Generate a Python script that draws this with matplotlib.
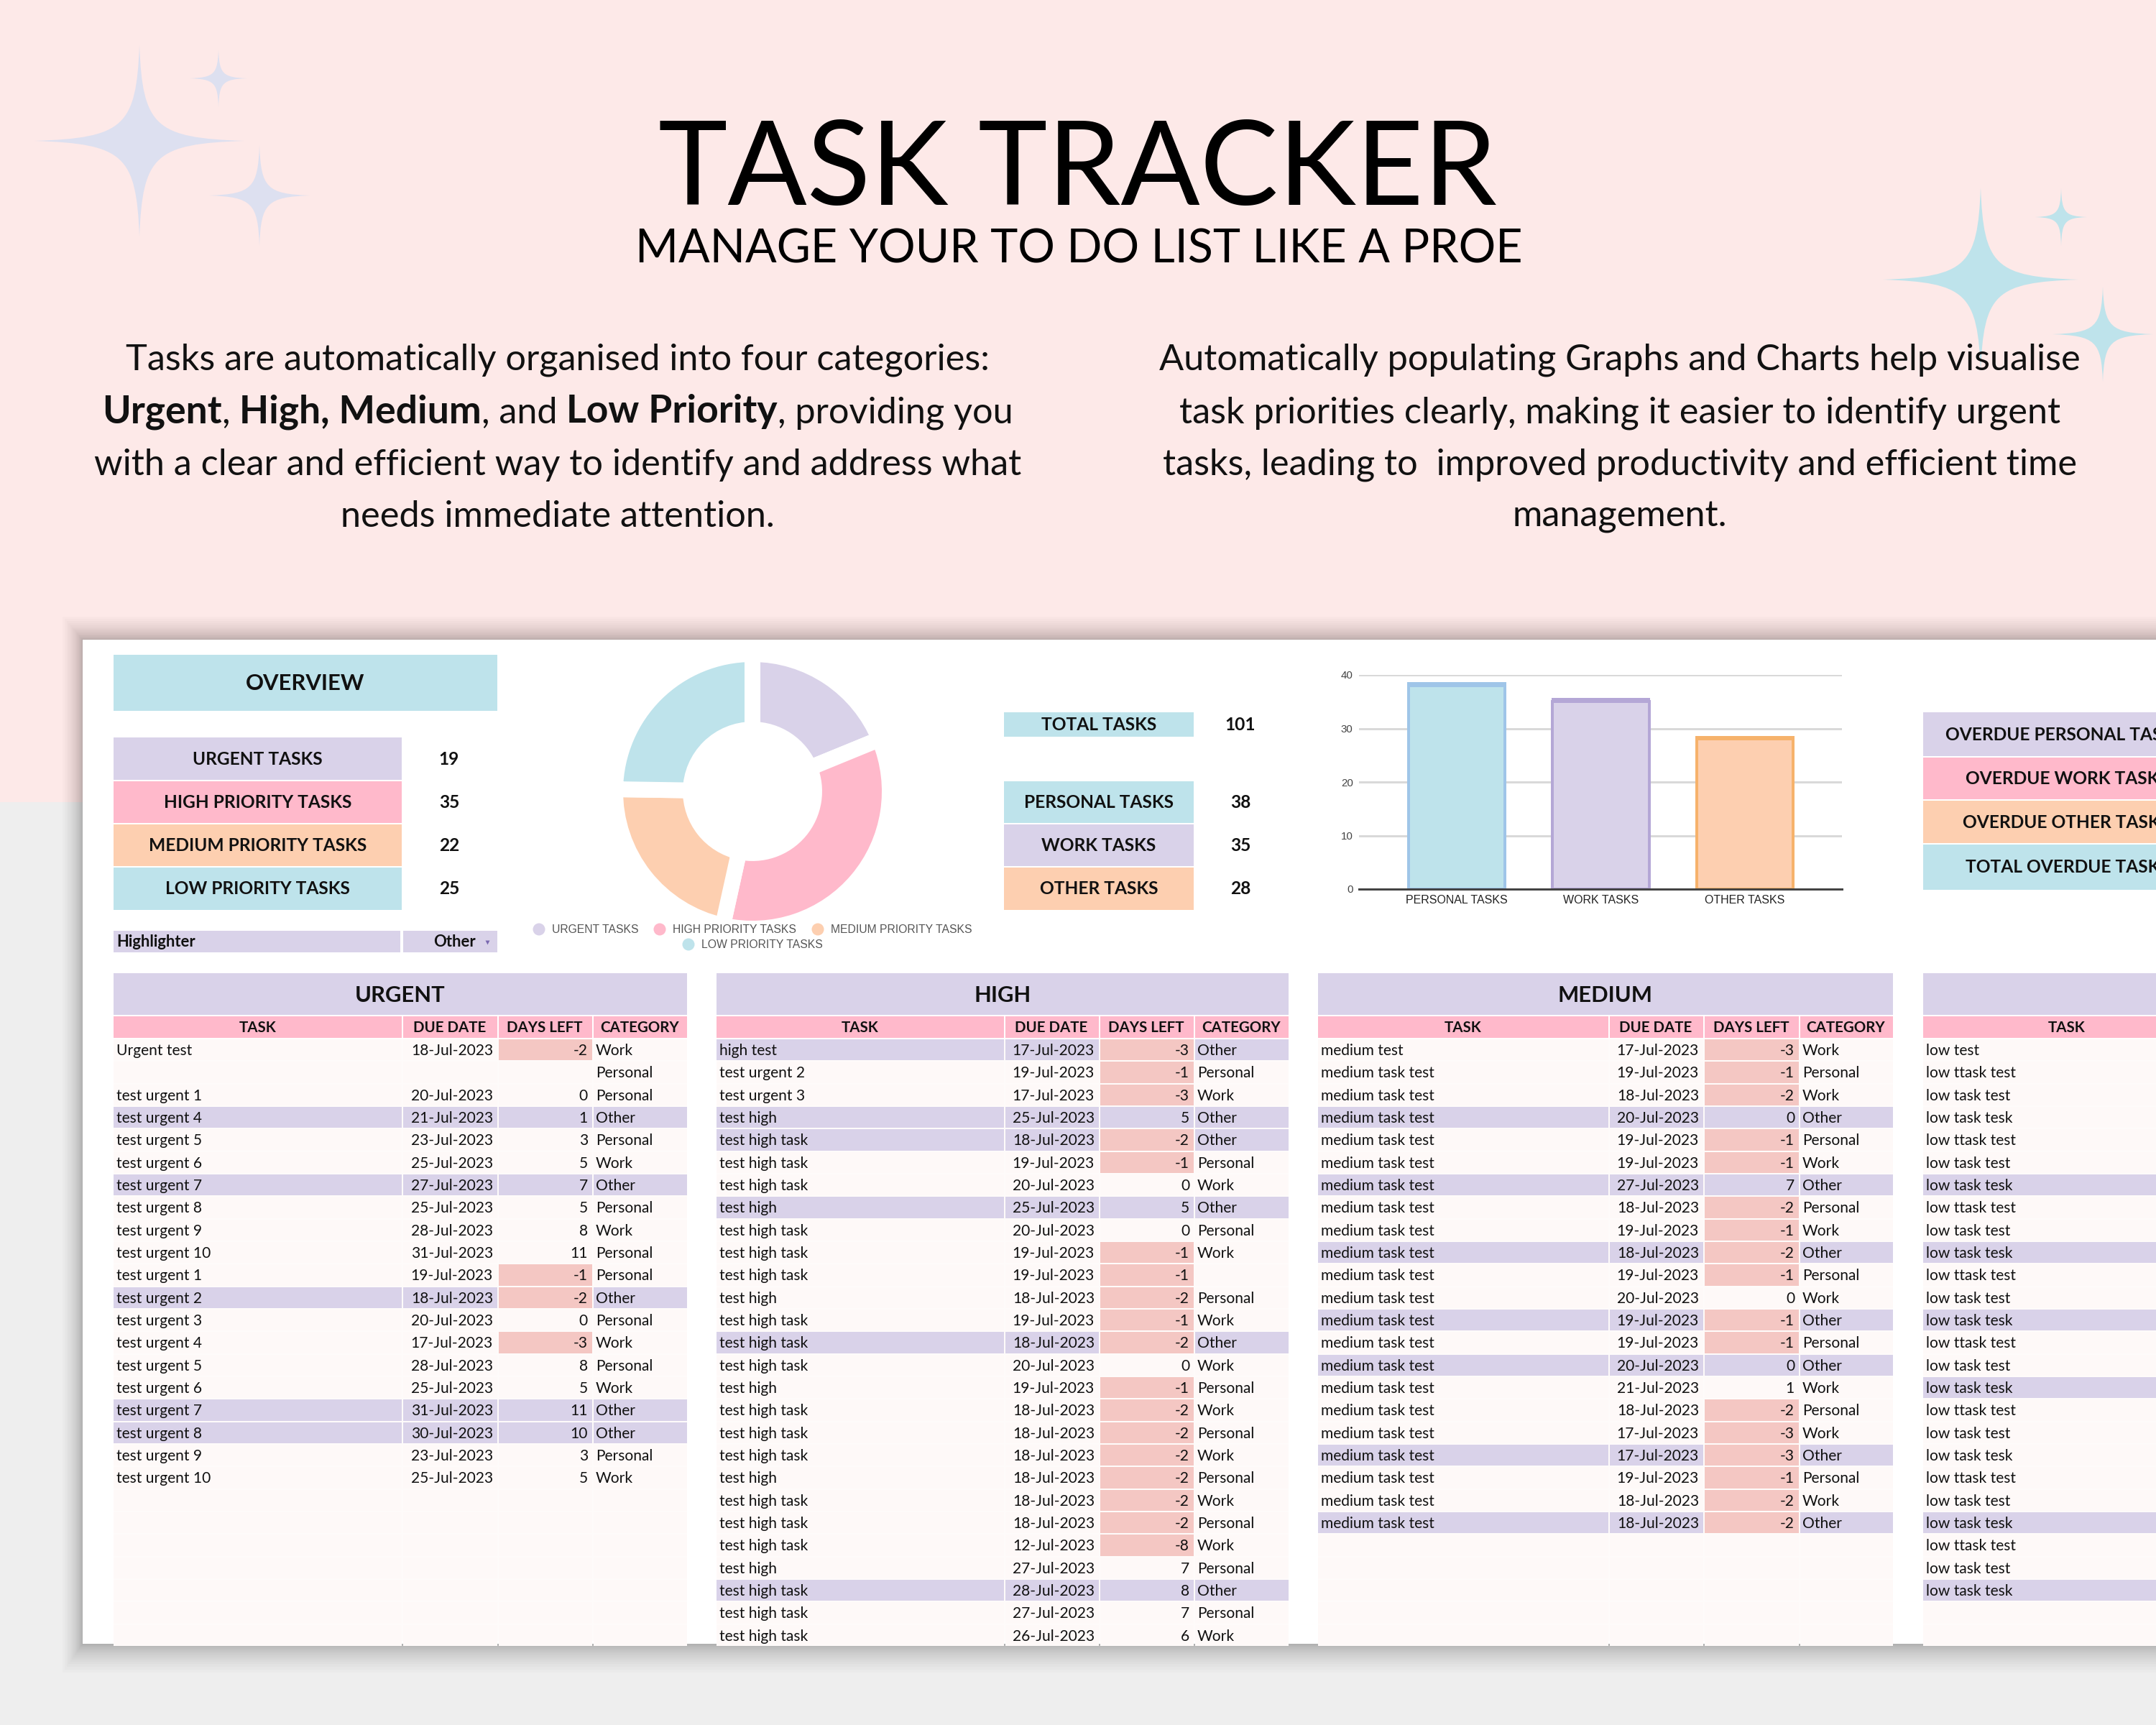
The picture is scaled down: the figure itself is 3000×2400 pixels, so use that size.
import matplotlib
matplotlib.use('Agg')
import matplotlib.pyplot as plt
from matplotlib.patches import Rectangle, PathPatch
from matplotlib.path import Path

BODY = 'Lato'
CHART = 'Liberation Sans'

# overview numbers
priority_labels = ['URGENT TASKS', 'HIGH PRIORITY TASKS', 'MEDIUM PRIORITY TASKS', 'LOW PRIORITY TASKS']
priority_values = [19, 35, 22, 25]
category_labels = ['PERSONAL TASKS', 'WORK TASKS', 'OTHER TASKS']
category_values = [38, 35, 28]
total_tasks = 101
overdue_labels = ['OVERDUE PERSONAL TASKS', 'OVERDUE WORK TASKS', 'OVERDUE OTHER TASKS', 'TOTAL OVERDUE TASKS']
bar_ticks = [0, 10, 20, 30, 40]

# urgent table
urgent_tasks = ['Urgent test', '', 'test urgent 1', 'test urgent 4', 'test urgent 5', 'test urgent 6',
                'test urgent 7', 'test urgent 8', 'test urgent 9', 'test urgent 10', 'test urgent 1',
                'test urgent 2', 'test urgent 3', 'test urgent 4', 'test urgent 5', 'test urgent 6',
                'test urgent 7', 'test urgent 8', 'test urgent 9', 'test urgent 10']
urgent_due = [18, None, 20, 21, 23, 25, 27, 25, 28, 31, 19, 18, 20, 17, 28, 25, 31, 30, 23, 25]
urgent_left = [-2, None, 0, 1, 3, 5, 7, 5, 8, 11, -1, -2, 0, -3, 8, 5, 11, 10, 3, 5]
urgent_cat = ['Work', 'Personal', 'Personal', 'Other', 'Personal', 'Work', 'Other', 'Personal', 'Work',
              'Personal', 'Personal', 'Other', 'Personal', 'Work', 'Personal', 'Work', 'Other', 'Other',
              'Personal', 'Work']

# high table
high_tasks = ['high test', 'test urgent 2', 'test urgent 3', 'test high', 'test high task', 'test high task',
              'test high task', 'test high', 'test high task', 'test high task', 'test high task', 'test high',
              'test high task', 'test high task', 'test high task', 'test high', 'test high task',
              'test high task', 'test high task', 'test high', 'test high task', 'test high task',
              'test high task', 'test high', 'test high task', 'test high task', 'test high task']
high_due = [17, 19, 17, 25, 18, 19, 20, 25, 20, 19, 19, 18, 19, 18, 20, 19, 18, 18, 18, 18, 18, 18, 12, 27, 28, 27, 26]
high_left = [-3, -1, -3, 5, -2, -1, 0, 5, 0, -1, -1, -2, -1, -2, 0, -1, -2, -2, -2, -2, -2, -2, -8, 7, 8, 7, 6]
high_cat = ['Other', 'Personal', 'Work', 'Other', 'Other', 'Personal', 'Work', 'Other', 'Personal', 'Work', '',
            'Personal', 'Work', 'Other', 'Work', 'Personal', 'Work', 'Personal', 'Work', 'Personal', 'Work',
            'Personal', 'Work', 'Personal', 'Other', 'Personal', 'Work']

# medium table
medium_tasks = ['medium test'] + ['medium task test'] * 21
medium_due = [17, 19, 18, 20, 19, 19, 27, 18, 19, 18, 19, 20, 19, 19, 20, 21, 18, 17, 17, 19, 18, 18]
medium_left = [-3, -1, -2, 0, -1, -1, 7, -2, -1, -2, -1, 0, -1, -1, 0, 1, -2, -3, -3, -1, -2, -2]
medium_cat = ['Work', 'Personal', 'Work', 'Other', 'Personal', 'Work', 'Other', 'Personal', 'Work', 'Other',
              'Personal', 'Work', 'Other', 'Personal', 'Other', 'Work', 'Personal', 'Work', 'Other', 'Personal',
              'Work', 'Other']

# low table, only the task column is in the picture
low_tasks = ['low test', 'low ttask test', 'low task test', 'low task tesk', 'low ttask test', 'low task test',
             'low task tesk', 'low ttask test', 'low task test', 'low task tesk', 'low ttask test', 'low task test',
             'low task tesk', 'low ttask test', 'low task test', 'low task tesk', 'low ttask test', 'low task test',
             'low task tesk', 'low ttask test', 'low task test', 'low task tesk', 'low ttask test', 'low task test',
             'low task tesk']
low_other = [6, 9, 12, 15, 21, 24]

PINK_BG = '#fde9e8'
GREY_BG = '#eeeeee'
LAV = '#d9d2e9'
PINK = '#ffb9cb'
PEACH = '#fdcfb0'
BLUE = '#bee3eb'
RED = '#f4c7c3'
CREAM = '#fef9f8'
CREAM_GAP = '#fefbfa'
INK = '#111111'
GAP = 2


def px(size):
    return size * 0.72


fig = plt.figure(figsize=(30, 24), dpi=100)
ax = fig.add_axes([0, 0, 1, 1])
ax.set_xlim(0, 3000)
ax.set_ylim(2400, 0)
ax.axis('off')

sheet_x0, sheet_y0, sheet_y1 = 115, 890, 2287


def box(x0, y0, x1, y1, color, **kw):
    r = Rectangle((x0, y0), x1 - x0, y1 - y0, facecolor=color, edgecolor='none', **kw)
    ax.add_patch(r)
    return r


def star(cx, cy, rx, ry, color):
    # four points, each side bends in towards the middle
    a, b = 0.03, 0.15
    verts = [(cx, cy - ry),
             (cx + a * rx, cy - b * ry), (cx + b * rx, cy - a * ry), (cx + rx, cy),
             (cx + b * rx, cy + a * ry), (cx + a * rx, cy + b * ry), (cx, cy + ry),
             (cx - a * rx, cy + b * ry), (cx - b * rx, cy + a * ry), (cx - rx, cy),
             (cx - b * rx, cy - a * ry), (cx - a * rx, cy - b * ry), (cx, cy - ry)]
    codes = [Path.MOVETO] + [Path.CURVE4] * 12
    ax.add_patch(PathPatch(Path(verts, codes), facecolor=color, edgecolor='none'))


box(0, 0, 3000, 1116, PINK_BG)
box(0, 1116, 3000, 2400, GREY_BG)

star(194, 196, 146, 133, '#dde0f0')
star(304, 109, 40, 40, '#dde0f0')
star(361, 272, 70, 70, '#dde0f0')
star(2756, 389, 136, 128, BLUE)
star(2868, 302, 36, 40, BLUE)
star(2926, 465, 70, 66, BLUE)

ax.text(1499, 285, 'TASK TRACKER', ha='center', va='baseline', fontsize=px(163), family=BODY, color='black')
ax.text(1501, 365, 'MANAGE YOUR TO DO LIST LIKE A PROE', ha='center', va='baseline', fontsize=px(64.6), family=BODY,
        color='black')

para_size = px(50.5)
bold_size = px(53.5)
para_left = ['Tasks are automatically organised into four categories:',
             None,
             'with a clear and efficient way to identify and address what',
             'needs immediate attention.']
para_right = ['Automatically populating Graphs and Charts help visualise',
              'task priorities clearly, making it easier to identify urgent',
              'tasks, leading to  improved productivity and efficient time',
              'management.']
para_y = [515, 588, 661, 733]
mixed_line = [('Urgent', 'bold'), (', ', 'normal'), ('High, Medium', 'bold'), (', and ', 'normal'),
              ('Low Priority', 'bold'), (', providing you', 'normal')]

for line, y in zip(para_left, para_y):
    if line:
        ax.text(776, y, line, ha='center', va='baseline', fontsize=para_size, family=BODY, color=INK)
for line, y in zip(para_right, para_y):
    ax.text(2254, y, line, ha='center', va='baseline', fontsize=para_size, family=BODY, color=INK)

# the bold line is laid out piece by piece
fig.canvas.draw()
rend = fig.canvas.get_renderer()


def run_size(weight):
    return bold_size if weight == 'bold' else para_size


def run_width(s, weight):
    a = ax.text(0, 0, s + '.', fontsize=run_size(weight), family=BODY, weight=weight)
    b = ax.text(0, 0, '.', fontsize=run_size(weight), family=BODY, weight=weight)
    w = a.get_window_extent(rend).width - b.get_window_extent(rend).width
    a.remove()
    b.remove()
    return w


widths = [run_width(s, w) for s, w in mixed_line]
x = 776 - sum(widths) / 2
for (s, w), wd in zip(mixed_line, widths):
    ax.text(x, para_y[1], s, ha='left', va='baseline', fontsize=run_size(w), family=BODY, weight=w, color=INK)
    x += wd

# shadow behind the sheet, denser next to the edge
for k in range(1, 20):
    d = k * k / 9
    box(sheet_x0 - d * 0.7, sheet_y0 - d * 0.8, 3100, sheet_y1 + d, 'black', alpha=0.016)
sheet = box(sheet_x0, sheet_y0, 3100, sheet_y1, 'white')


def label(x, y, s, size=24.5, weight='bold', ha='center', **kw):
    return ax.text(x, y, s, ha=ha, va='baseline', fontsize=px(size), family=BODY, weight=weight, color=INK, **kw)


# overview block
box(158, 911, 692, 989, BLUE)
label(425, 960, 'OVERVIEW', size=31)
panel_rows = [(1026, 1085), (1087, 1145), (1147, 1205), (1207, 1266)]
for (y0, y1), name, val, col in zip(panel_rows, priority_labels, priority_values, [LAV, PINK, PEACH, BLUE]):
    box(158, y0, 559, y1, col)
    label(358.5, (y0 + y1) / 2 + 8, name)
    label(625, (y0 + y1) / 2 + 8, str(val))

box(158, 1295, 557, 1325, LAV)
box(561, 1295, 692, 1325, LAV)
label(162, 1317, 'Highlighter', size=22, ha='left')
label(632, 1317, 'Other', size=22)
ax.scatter([678], [1311], marker='v', s=18, color='#7a68b0', linewidths=0)

# totals block
box(1397, 991, 1661, 1025, BLUE)
label(1529, 1016, 'TOTAL TASKS')
label(1726, 1016, str(total_tasks))
for (y0, y1), name, val, col in zip(panel_rows[1:], category_labels, category_values, [BLUE, LAV, PEACH]):
    box(1397, y0, 1661, y1, col)
    label(1529, (y0 + y1) / 2 + 8, name)
    label(1726, (y0 + y1) / 2 + 8, str(val))

# overdue block, runs off the right edge
overdue_rows = [(991, 1052), (1054, 1112), (1114, 1173), (1175, 1238)]
overdue_x = [2707, 2735, 2731, 2735]
for (y0, y1), name, tx, col in zip(overdue_rows, overdue_labels, overdue_x, [LAV, PINK, PEACH, BLUE]):
    box(2676, y0, 3000, y1, col)
    label(tx, (y0 + y1) / 2 + 8, name, ha='left')


# task tables
ROW0, ROW_H, TEXT_OFF = 1446, 31.33, 22
N_ROWS = 27


def draw_table(title, cols, tasks, due, left, cat):
    box(cols[0], 1354, cols[-1], 1412, LAV)
    label((cols[0] + cols[-1]) / 2, 1394, title, size=31)
    for i, name in enumerate(['TASK', 'DUE DATE', 'DAYS LEFT', 'CATEGORY']):
        box(cols[i] + (GAP if i else 0), 1414, cols[i + 1], 1444, PINK)
        label((cols[i] + cols[i + 1]) / 2, 1436, name, size=20.5)
    box(cols[0], ROW0, cols[-1], sheet_y1 - 4, CREAM_GAP)
    for i in range(N_ROWS):
        y0 = ROW0 + i * ROW_H
        y1 = y0 + ROW_H - GAP
        other = i < len(cat) and cat[i] == 'Other'
        for c in range(4):
            face = LAV if other else CREAM
            if c == 2 and i < len(left) and left[i] is not None and left[i] < 0:
                face = RED
            box(cols[c] + (GAP if c else 0), y0, cols[c + 1], y1, face, clip_path=sheet)
        if i >= len(tasks):
            continue
        by = y0 + TEXT_OFF
        label(cols[0] + 4, by, tasks[i], size=21, weight='normal', ha='left', clip_path=sheet, clip_on=True)
        if due[i] is not None:
            label(cols[2] - 6, by, f'{due[i]}-Jul-2023', size=21, weight='normal', ha='right', clip_path=sheet,
                  clip_on=True)
            label(cols[3] - 6, by, str(left[i]), size=21, weight='normal', ha='right', clip_path=sheet, clip_on=True)
        label(cols[3] + 5, by, cat[i], size=21, weight='normal', ha='left', clip_path=sheet, clip_on=True)


draw_table('URGENT', [158, 559, 692, 824, 956], urgent_tasks, urgent_due, urgent_left, urgent_cat)
draw_table('HIGH', [997, 1397, 1529, 1661, 1793], high_tasks, high_due, high_left, high_cat)
draw_table('MEDIUM', [1834, 2238, 2370, 2503, 2634], medium_tasks, medium_due, medium_left, medium_cat)

box(2676, 1354, 3000, 1412, LAV)
box(2676, 1414, 3000, 1444, PINK)
label(2876, 1436, 'TASK', size=20.5)
box(2676, ROW0, 3000, sheet_y1 - 4, CREAM_GAP)
for i in range(N_ROWS):
    y0 = ROW0 + i * ROW_H
    box(2676, y0, 3000, y0 + ROW_H - GAP, LAV if i in low_other else CREAM, clip_path=sheet)
    if i < len(low_tasks):
        label(2680, y0 + TEXT_OFF, low_tasks[i], size=21, weight='normal', ha='left')


def px_axes(x0, y0, x1, y1):
    return fig.add_axes([x0 / 3000, 1 - y1 / 2400, (x1 - x0) / 3000, (y1 - y0) / 2400])


# doughnut
R_OUT = 191
pie_ax = px_axes(1047 - R_OUT, 1101 - R_OUT, 1047 + R_OUT, 1101 + R_OUT)
pie_ax.pie(priority_values, colors=[LAV, PINK, PEACH, BLUE], startangle=90, counterclock=False, radius=1,
           wedgeprops={'width': 0.55, 'edgecolor': 'white', 'linewidth': px(22)})
pie_ax.set_xlim(-1, 1)
pie_ax.set_ylim(-1, 1)

# legend goes above the doughnut, whose white edges would hide it
top_ax = fig.add_axes([0, 0, 1, 1])
top_ax.set_xlim(0, 3000)
top_ax.set_ylim(2400, 0)
top_ax.axis('off')
legend_x = [750, 918, 1138, 958]
legend_y = [1293, 1293, 1293, 1314]
top_ax.scatter(legend_x, legend_y, s=150, color=[LAV, PINK, PEACH, BLUE], linewidths=0)
for lx, ly, name in zip(legend_x, legend_y, priority_labels):
    top_ax.text(lx + 18, ly + 5, name, ha='left', va='baseline', fontsize=px(15.7), family=CHART, color='#555555')

# bar chart
bar_ax = px_axes(1891, 939, 2563, 1237)
bar_ax.patch.set_visible(False)
bar_x = list(range(len(category_values)))
bar_edges = ['#9fc5e8', '#b4a7d6', '#f6b26b']
bar_ax.set_axisbelow(True)
bar_ax.yaxis.grid(True, color='#d9d9d9', linewidth=px(3))
bar_ax.bar(bar_x, category_values, width=0.67, color=[BLUE, LAV, PEACH], edgecolor=bar_edges, linewidth=px(4))
bar_ax.bar(bar_x, [0.65] * 3, bottom=category_values, width=0.685, color=bar_edges, linewidth=0)
bar_ax.set_xlim(-0.678, 2.673)
bar_ax.set_ylim(0, 40)
bar_ax.set_yticks(bar_ticks)
bar_ax.set_xticks(bar_x)
bar_ax.set_xticklabels(category_labels, family=CHART, fontsize=px(16), color='#222222')
for t in bar_ax.get_yticklabels():
    t.set_family(CHART)
    t.set_fontsize(px(15))
    t.set_color('#444444')
bar_ax.tick_params(length=0, pad=6)
for side in ['top', 'right', 'left']:
    bar_ax.spines[side].set_visible(False)
bar_ax.spines['bottom'].set_color('#444444')
bar_ax.spines['bottom'].set_linewidth(px(3))

fig.savefig('out.png', dpi=100)
